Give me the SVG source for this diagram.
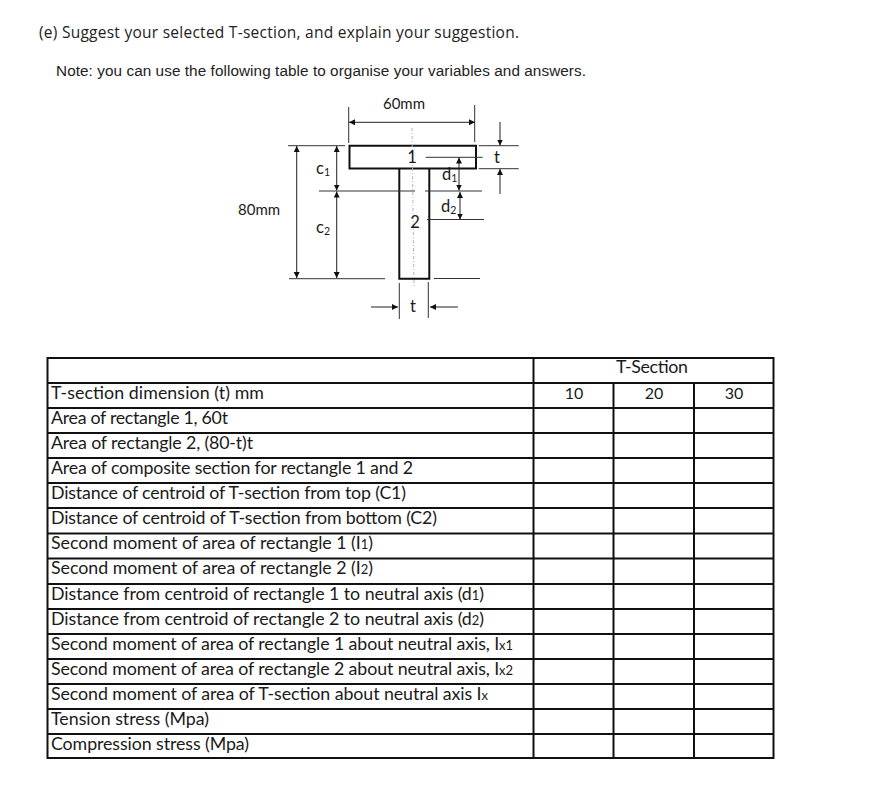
<svg xmlns="http://www.w3.org/2000/svg" width="890" height="790" viewBox="0 0 890 790">
<style>
text{font-family:"Lato","Liberation Sans",sans-serif;fill:#1a1a1a}
.h{font-family:"Open Sans",sans-serif;font-size:15.5px;fill:#222}
.n{font-family:"Liberation Sans",sans-serif;font-size:15.3px;fill:#222}
.c{font-size:17.8px}
.v{font-size:16px}
.m{text-anchor:middle}
.d{font-size:15px}
.e{font-size:16.5px}
.s{font-size:10.5px}
.sb{font-size:13px}
.g{stroke:#111;fill:none;stroke-width:2}
.l{stroke:#333;fill:none;stroke-width:1}
.a{stroke:#222;fill:none;stroke-width:1;marker-end:url(#ar)}
</style>
<defs><marker id="ar" markerWidth="8" markerHeight="8" refX="6" refY="3" orient="auto" markerUnits="userSpaceOnUse"><path d="M0,0L6,3L0,6z" fill="#111"/></marker></defs>
<rect width="890" height="790" fill="#fff"/>
<text class="h" x="39" y="38" textLength="480">(e) Suggest your selected T-section, and explain your suggestion.</text>
<text class="n" x="56" y="76" textLength="530">Note: you can use the following table to organise your variables and answers.</text>
<g id="tsection"><path class="g" d="M349.5 145.7H476V168.5H349.5Z"/><path class="g" d="M399.3 168.5V278.7H429.3V168.5"/></g>
<g id="connectors">
<path d="M412 128L414 287" stroke="#9db8de" stroke-width="1" stroke-dasharray="3 2 1 2" fill="none"/>
<path class="l" d="M348.7 107V143M474.7 105V142M288 145.7H345M289 278.7H385M434 278.500H480M319 191H415M425 191H482M425.700 157.300H482.700M427 219.500H484M478.700 145.700H518.700M478.700 168.700H518.700M399.300 283V319M428.300 282V318"/>
<path class="a" d="M412 122.300H349"/><path class="a" d="M412 122.300H475"/>
<path class="a" d="M296.700 212V146"/><path class="a" d="M296.700 212V278"/>
<path class="a" d="M336.700 168V146"/><path class="a" d="M336.700 168V190.500"/>
<path class="a" d="M336.700 235V191.500"/><path class="a" d="M336.700 235V278"/>
<path class="a" d="M459 174V157.500"/><path class="a" d="M459 174V190.500"/>
<path class="a" d="M460 205V192"/><path class="a" d="M460 205V219.500"/>
<path class="a" d="M500 122V145.500"/><path class="a" d="M500 194V169"/>
<path class="a" d="M371 307H398"/><path class="a" d="M458 307H430"/>
</g>
<g id="labels">
<text class="d m" x="404" y="109">60mm</text>
<text class="d" x="238" y="215">80mm</text>
<text class="e" x="316" y="174">c<tspan class="s" dy="2">1</tspan></text>
<text class="e" x="316" y="233">c<tspan class="s" dy="2">2</tspan></text>
<text class="e" x="442" y="180">d<tspan class="s" dy="2">1</tspan></text>
<text class="e" x="441" y="212">d<tspan class="s" dy="2">2</tspan></text>
<text class="e m" x="412" y="163">1</text>
<text class="e m" x="415" y="228">2</text>
<text class="e m" x="497" y="163">t</text>
<text class="e m" x="413" y="312">t</text>
</g>
<g id="table">
<path d="M47.500 358H773.500M47.500 383H773.500M47.500 408H773.500M47.500 433H773.500M47.500 458H773.500M47.500 483H773.500M47.500 508H773.500M47.500 533.500H773.500M47.500 558.500H773.500M47.500 584H773.500M47.500 609H773.500M47.500 634H773.500M47.500 659H773.500M47.500 684H773.500M47.500 709H773.500M47.500 734H773.500M47.500 758H773.500M47.500 357V759M533.500 357V759M773.500 357V759M613.500 383V759M694 383V759" stroke="#111" stroke-width="2" fill="none"/>
<text class="c m" x="652" y="373" textLength="72">T-Section</text>
<text class="v m" x="574" y="399">10</text><text class="v m" x="654" y="399">20</text><text class="v m" x="734" y="399">30</text>
<text class="c" x="51" y="399" textLength="213">T-section dimension (t) mm</text>
<text class="c" x="51" y="424" textLength="177">Area of rectangle 1, 60t</text>
<text class="c" x="51" y="449" textLength="202">Area of rectangle 2, (80-t)t</text>
<text class="c" x="51" y="474" textLength="362">Area of composite section for rectangle 1 and 2</text>
<text class="c" x="51" y="499" textLength="355">Distance of centroid of T-section from top (C1)</text>
<text class="c" x="51" y="524" textLength="386">Distance of centroid of T-section from bottom (C2)</text>
<text class="c" x="51" y="549" textLength="322">Second moment of area of rectangle 1 (I<tspan class="sb">1</tspan>)</text>
<text class="c" x="51" y="574" textLength="322">Second moment of area of rectangle 2 (I<tspan class="sb">2</tspan>)</text>
<text class="c" x="51" y="600" textLength="433">Distance from centroid of rectangle 1 to neutral axis (d<tspan class="sb">1</tspan>)</text>
<text class="c" x="51" y="625" textLength="433">Distance from centroid of rectangle 2 to neutral axis (d<tspan class="sb">2</tspan>)</text>
<text class="c" x="51" y="650" textLength="462">Second moment of area of rectangle 1 about neutral axis, I<tspan class="sb">x1</tspan></text>
<text class="c" x="51" y="675" textLength="462">Second moment of area of rectangle 2 about neutral axis, I<tspan class="sb">x2</tspan></text>
<text class="c" x="51" y="700" textLength="437">Second moment of area of T-section about neutral axis I<tspan class="sb">x</tspan></text>
<text class="c" x="51" y="725" textLength="158">Tension stress (Mpa)</text>
<text class="c" x="51" y="750" textLength="198">Compression stress (Mpa)</text>
</g>
</svg>
